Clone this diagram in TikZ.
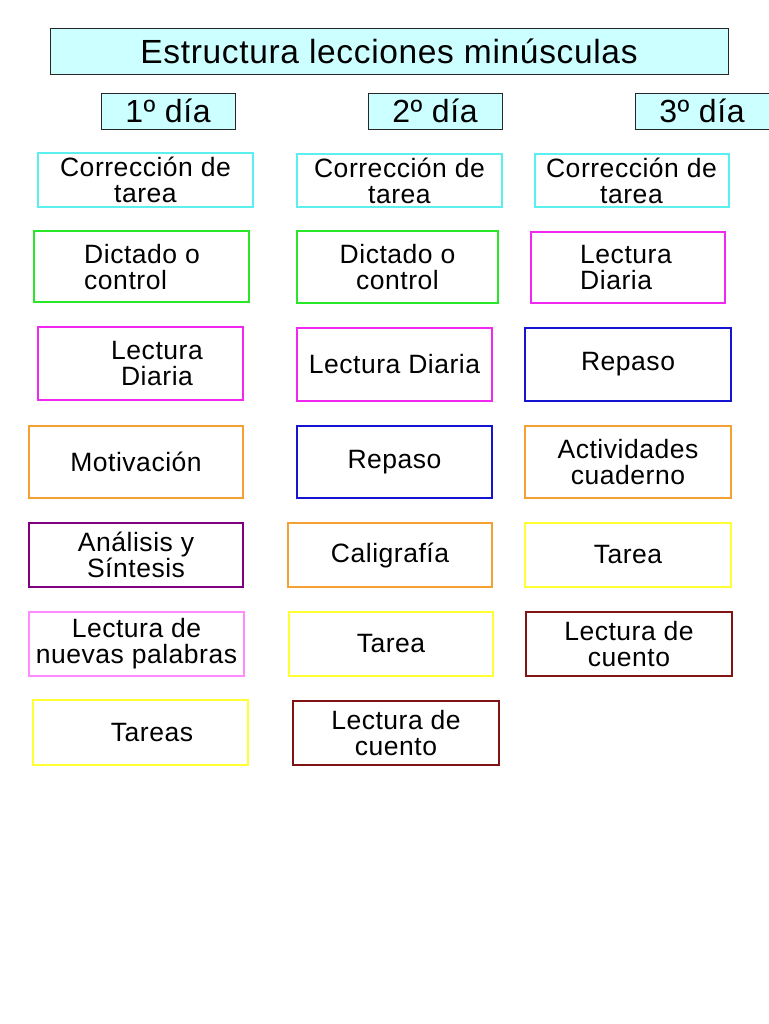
\documentclass[tikz,border=0pt]{standalone}
\usepackage{fontspec}
\setmainfont[LetterSpace=2]{Liberation Sans}
\usepackage{tikz}
\usetikzlibrary{positioning}

\definecolor{headfill}{RGB}{204,255,255}
\definecolor{cardcyan}{RGB}{90,240,240}
\definecolor{cardgreen}{RGB}{40,230,40}
\definecolor{cardmag}{RGB}{240,40,240}
\definecolor{cardorange}{RGB}{245,160,50}
\definecolor{cardpurple}{RGB}{128,0,128}
\definecolor{cardpink}{RGB}{255,140,255}
\definecolor{cardyellow}{RGB}{255,255,50}
\definecolor{cardblue}{RGB}{20,20,210}
\definecolor{cardred}{RGB}{128,20,20}

\begin{document}
\begin{tikzpicture}[x=1pt, y=-1pt,
    head/.style={rectangle, draw=black!85, line width=0.9pt, fill=headfill, inner sep=0pt, minimum width=134, minimum height=36, font=\fontsize{32}{34}\selectfont},
    card/.style={rectangle, draw=#1, line width=2pt, fill=white, inner sep=0pt, align=center, font=\fontsize{26.5}{26}\selectfont},
    txt/.style={inner sep=0pt, align=center, font=\fontsize{26.5}{26}\selectfont}
]
\useasboundingbox[fill=white] (0,0) rectangle (768,1024);

% Header
\node[head, minimum width=678, minimum height=46, font=\fontsize{33.5}{35}\selectfont] (title) at (389,51) {Estructura lecciones minúsculas};
\node[head] (day1) at (168,111) {1º día};
\node[head] (day2) at (435,111) {2º día};
\node[head] (day3) at (702,111) {3º día};

% Day 1
\node[card=cardcyan, minimum width=215, minimum height=54] (a1) at (145.5,180) {Corrección de\\tarea};
\node[card=cardgreen, minimum width=215, minimum height=71] (a2) at (141.5,266.5) {};
\node[txt, align=left, anchor=west] (a2-text) at (84,267) {Dictado o\\control};
\node[card=cardmag, minimum width=205, minimum height=73] (a3) at (140.5,363.5) {};
\node[txt] (a3-text) at (157,364) {Lectura\\Diaria};
\node[card=cardorange, minimum width=214, minimum height=72] (a4) at (136,462) {Motivación};
\node[card=cardpurple, minimum width=214, minimum height=64] (a5) at (136,555) {Análisis y\\Síntesis};
\node[card=cardpink, minimum width=215, minimum height=64] (a6) at (136.5,644) {Lectura de\\nuevas palabras};
\node[card=cardyellow, minimum width=215, minimum height=65] (a7) at (140.5,732.5) {};
\node[txt] (a7-text) at (152,733) {Tareas};

% Day 2
\node[card=cardcyan, minimum width=205, minimum height=53] (b1) at (399.5,180.5) {Corrección de\\tarea};
\node[card=cardgreen, minimum width=201, minimum height=71] (b2) at (397.5,267) {Dictado o\\control};
\node[card=cardmag, minimum width=195, minimum height=73] (b3) at (394.5,364) {Lectura Diaria};
\node[card=cardblue, minimum width=195, minimum height=72] (b4) at (394.5,462) {Repaso};
\node[card=cardorange, minimum width=204, minimum height=64] (b5) at (390,555) {Caligrafía};
\node[card=cardyellow, minimum width=204, minimum height=64] (b6) at (391,644) {Tarea};
\node[card=cardred, minimum width=206, minimum height=64] (b7) at (396,733) {Lectura de\\cuento};

% Day 3
\node[card=cardcyan, minimum width=194, minimum height=53] (c1) at (631.5,180.5) {Corrección de\\tarea};
\node[card=cardmag, minimum width=194, minimum height=71] (c2) at (628,267.5) {};
\node[txt, align=left, anchor=west] (c2-text) at (580,267.5) {Lectura\\Diaria};
\node[card=cardblue, minimum width=206, minimum height=73] (c3) at (628,364) {Repaso};
\node[card=cardorange, minimum width=206, minimum height=72] (c4) at (628,462) {Actividades\\cuaderno};
\node[card=cardyellow, minimum width=206, minimum height=64] (c5) at (628,555) {Tarea};
\node[card=cardred, minimum width=206, minimum height=64] (c6) at (629,644) {Lectura de\\cuento};

\end{tikzpicture}
\end{document}
